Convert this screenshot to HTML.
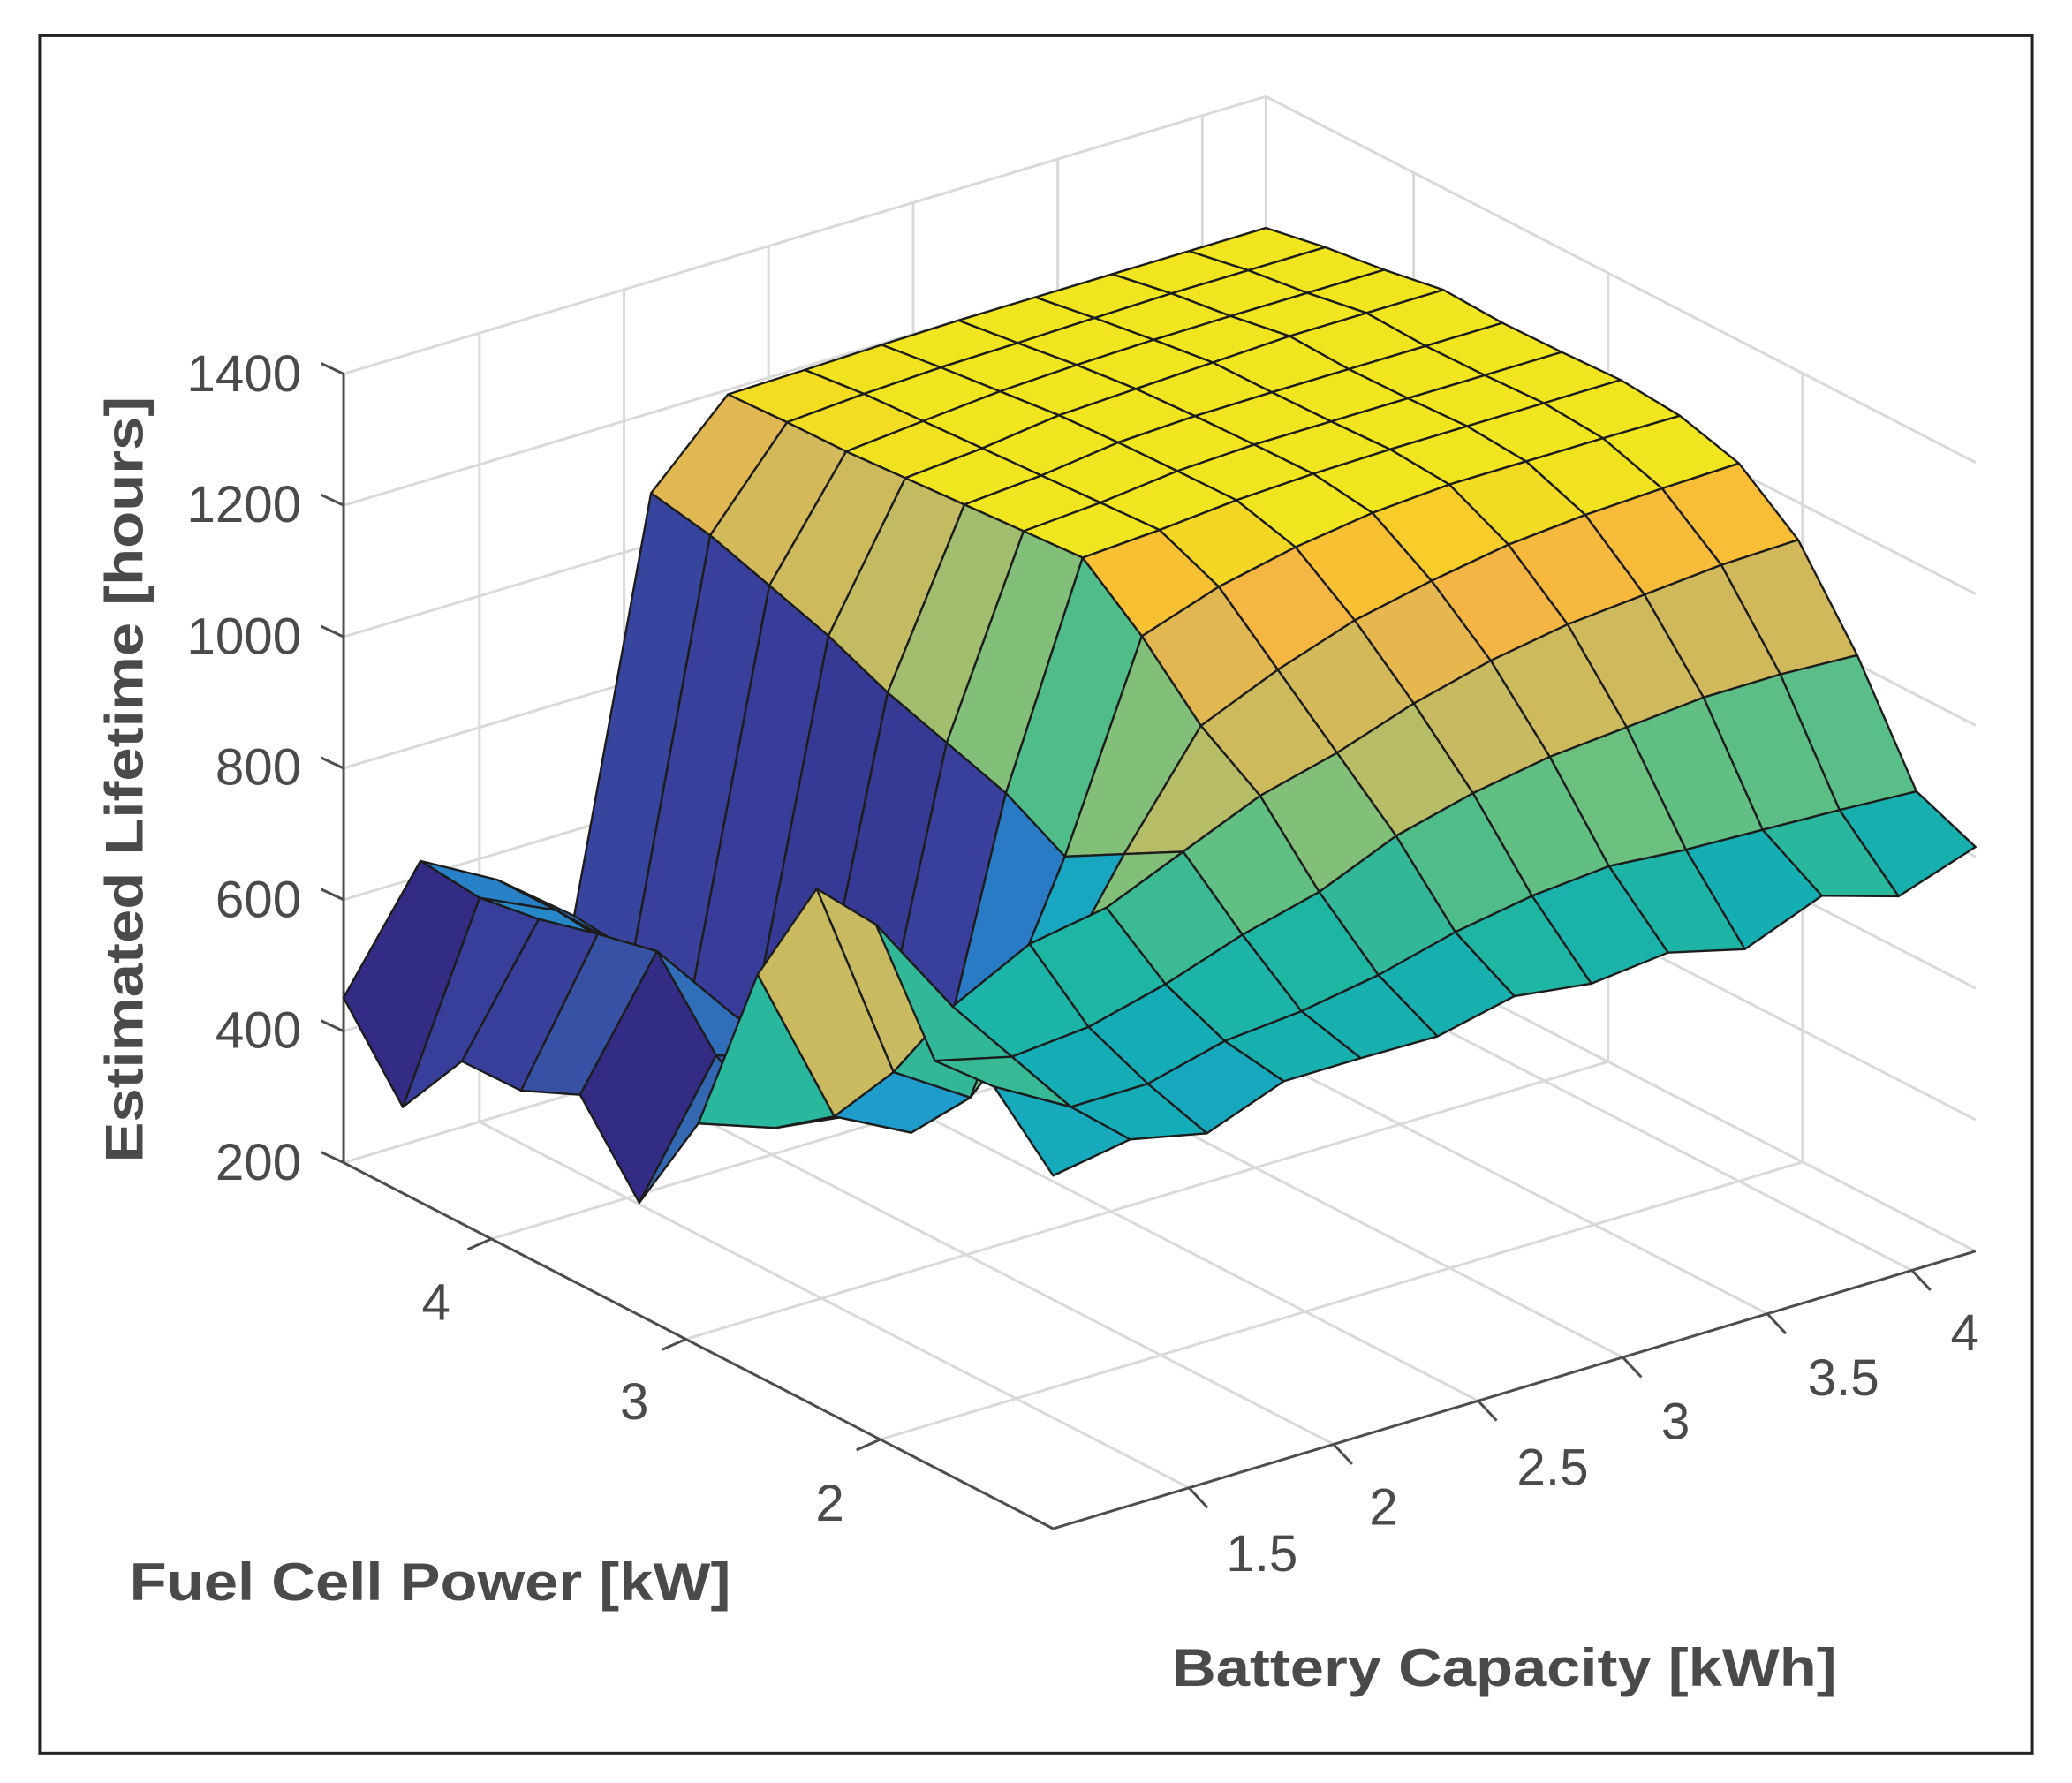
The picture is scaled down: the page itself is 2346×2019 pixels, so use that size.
<!DOCTYPE html>
<html><head><meta charset="utf-8">
<style>
html,body{margin:0;padding:0;background:#fff;}
svg{display:block;}
text{font-family:"Liberation Sans",Arial,sans-serif;fill:#4a4a4a;}
</style></head>
<body>
<svg id="s" width="2346" height="2019" viewBox="0 0 1568 1349.5" xmlns="http://www.w3.org/2000/svg">
<rect x="0" y="0" width="1568" height="1349.5" fill="#fff"/>
<rect x="30" y="27" width="1508" height="1300" fill="none" stroke="#222" stroke-width="2"/>
<g id="grid" stroke="#d9d9d9" stroke-width="2" fill="none"></g>
<g id="axes" stroke="#4d4d4d" stroke-width="2" fill="none"></g>
<g id="surf" stroke="#1c1c1c" stroke-width="1.6" stroke-linejoin="round"></g>
<g font-size="39">
<text x="228" y="893" text-anchor="end">200</text>
<text x="228" y="793" text-anchor="end">400</text>
<text x="228" y="694" text-anchor="end">600</text>
<text x="228" y="594" text-anchor="end">800</text>
<text x="228" y="495" text-anchor="end">1000</text>
<text x="228" y="395" text-anchor="end">1200</text>
<text x="228" y="296" text-anchor="end">1400</text>
<text x="330" y="999" text-anchor="middle">4</text>
<text x="480" y="1074" text-anchor="middle">3</text>
<text x="628" y="1151" text-anchor="middle">2</text>
<text x="955" y="1189" text-anchor="middle">1.5</text>
<text x="1047" y="1154" text-anchor="middle">2</text>
<text x="1175" y="1124" text-anchor="middle">2.5</text>
<text x="1268" y="1089" text-anchor="middle">3</text>
<text x="1395" y="1056" text-anchor="middle">3.5</text>
<text x="1487" y="1022" text-anchor="middle">4</text>
</g>
<g font-size="40" font-weight="bold">
<text x="0" y="0" transform="translate(108,590) rotate(-90)" text-anchor="middle" textLength="580" lengthAdjust="spacingAndGlyphs">Estimated Lifetime [hours]</text>
<text x="98" y="1211" textLength="455" lengthAdjust="spacingAndGlyphs">Fuel Cell Power [kW]</text>
<text x="887" y="1276" textLength="503" lengthAdjust="spacingAndGlyphs">Battery Capacity [kWh]</text>
</g>
</svg>
<script>
(function(){
var NS="http://www.w3.org/2000/svg";
function P(u,v,z){return [260+537*u+698*v, 880+277*u-210*v-(z-200)*0.4975];}
function line(g,a,b){var l=document.createElementNS(NS,"line");l.setAttribute("x1",a[0].toFixed(1));l.setAttribute("y1",a[1].toFixed(1));l.setAttribute("x2",b[0].toFixed(1));l.setAttribute("y2",b[1].toFixed(1));g.appendChild(l);}
var grid=document.getElementById("grid"),axes=document.getElementById("axes"),surf=document.getElementById("surf");
var zt=[200,400,600,800,1000,1200,1400];
var bt=[1.5,2,2.5,3,3.5,4].map(function(b){return (b-1.03)/3.19;});
var ft=[4,3,2].map(function(f){return (4.76-f)/3.65;});
zt.forEach(function(z){line(grid,P(0,0,z),P(0,1,z));line(grid,P(0,1,z),P(1,1,z));});
bt.forEach(function(v){line(grid,P(0,v,200),P(0,v,1400));line(grid,P(0,v,200),P(1,v,200));});
ft.forEach(function(u){line(grid,P(u,1,200),P(u,1,1400));line(grid,P(u,0,200),P(u,1,200));});
line(grid,P(0,1,200),P(0,1,1400));
line(axes,[260,283],[260,880]);
line(axes,P(0,0,200),P(1,0,200));
line(axes,P(1,0,200),P(1,1,200));
zt.forEach(function(z){var p=P(0,0,z);line(axes,p,[p[0]-17,p[1]-8]);});
ft.forEach(function(u){var p=P(u,0,200);line(axes,p,[p[0]-18,p[1]+8]);});
bt.forEach(function(v){var p=P(1,v,200);line(axes,p,[p[0]+14,p[1]+15]);});
var Z=[
[451,624,560,470,1078,1193,1195,1198,1200,1200,1200,1200,1200],
[331,614,560,460,1060,1197,1205,1210,1212,1215,1217,1217,1217],
[447,628,550,450,1030,1199,1210,1220,1225,1228,1229,1229,1229],
[449,652,540,440,1000,1205,1215,1230,1235,1240,1245,1245,1245],
[489,672,540,430,960,1211,1220,1235,1240,1241,1241,1241,1241],
[371,560,520,430,930,1217,1225,1238,1243,1243,1243,1243,1243],
[538,496,480,450,900,1223,1230,1240,1245,1247,1247,1247,1247],
[811,560,500,600,850,1150,1190,1215,1232,1240,1240,1240,1239],
[988,674,600,720,900,1060,1110,1150,1175,1195,1205,1210,1213],
[980,820,880,900,950,1000,1030,1070,1100,1120,1130,1140,1143],
[819,790,800,830,870,900,950,980,1000,1010,1020,1020,1014],
[826,760,760,790,800,820,850,870,880,870,865,860,853],
[737,757,731,775,775,773,799,783,795,765,811,775,815]];
var stops=[[380,"332c85"],[450,"38409c"],[520,"3761ac"],[600,"2a7bc6"],[680,"1e9fcc"],[760,"14adb5"],[800,"1fb5a3"],[840,"45bb8e"],[880,"6cc07f"],[960,"c2bb62"],[1030,"d3b95a"],[1100,"f4b545"],[1160,"fbc22f"],[1210,"f0e51e"]];
function hx(s){return [parseInt(s.substr(0,2),16),parseInt(s.substr(2,2),16),parseInt(s.substr(4,2),16)];}
function col(z){if(z<=stops[0][0])return "#"+stops[0][1];
for(var k=1;k<stops.length;k++){if(z<=stops[k][0]){var a=hx(stops[k-1][1]),b=hx(stops[k][1]),t=(z-stops[k-1][0])/(stops[k][0]-stops[k-1][0]);
return "rgb("+[0,1,2].map(function(c){return Math.round(a[c]+(b[c]-a[c])*t);}).join(",")+")";}}
return "#"+stops[stops.length-1][1];}
var quads=[];
for(var i=0;i<12;i++)for(var j=0;j<12;j++)quads.push([i,j]);
quads.sort(function(a,b){return (a[0]-a[1])-(b[0]-b[1]) || (a[0]-b[0]);});
quads.forEach(function(q){var i=q[0],j=q[1];
var pts=[[i,j],[i+1,j],[i+1,j+1],[i,j+1]].map(function(c){var p=P(c[0]/12,c[1]/12,Z[c[0]][c[1]]);return p[0].toFixed(1)+","+p[1].toFixed(1);});
var pg=document.createElementNS(NS,"polygon");pg.setAttribute("points",pts.join(" "));pg.setAttribute("fill",col(Z[i+1][j]));surf.appendChild(pg);});
})();
</script>
</body></html>
